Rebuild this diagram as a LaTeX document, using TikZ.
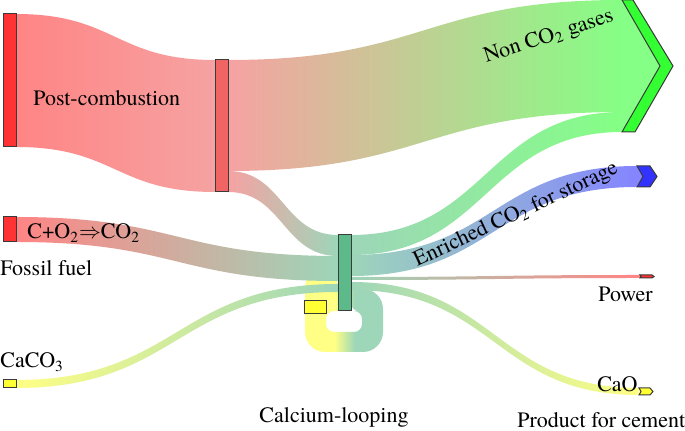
\documentclass[tikz,border=0pt]{standalone}
\usepackage{fontspec}
\setmainfont{texgyretermes-regular.otf}[BoldFont=texgyretermes-bold.otf]
\usetikzlibrary{calc,backgrounds}

\definecolor{redNode}{HTML}{FF3333}
\definecolor{midNode}{HTML}{F06464}
\definecolor{yellowNode}{HTML}{FFFF33}
\definecolor{greenNode}{HTML}{5CBA8A}
\definecolor{gasNode}{HTML}{33FF33}
\definecolor{blueNode}{HTML}{3333FF}
\definecolor{borderGray}{HTML}{3A3A3A}
\colorlet{redLink}{redNode!60!white}
\colorlet{midLink}{midNode!60!white}
\colorlet{yellowLink}{yellowNode!60!white}
\colorlet{greenLink}{greenNode!60!white}
\colorlet{gasLink}{gasNode!60!white}
\colorlet{blueLink}{blueNode!60!white}

\pgfdeclarehorizontalshading{loopShade}{100bp}{color(0bp)=(yellowLink); color(44bp)=(yellowLink); color(57bp)=(greenLink); color(100bp)=(greenLink)}

% ribbon: top/bottom of source side, top/bottom of target side, colours
\newcommand{\flow}[6]{%
  \shade[left color=#5, right color=#6]
    let \p1=#1, \p2=#2, \p3=#3, \p4=#4, \p5=($(\p1)!.5!(\p3)$) in
    (\p1) .. controls (\x5,\y1) and (\x5,\y3) .. (\p3) -- (\p4)
    .. controls (\x5,\y4) and (\x5,\y2) .. (\p2) -- cycle;}

\begin{document}
\begin{tikzpicture}
[x=0.5pt, y=-0.5pt,
  barDecorate/.style={shape=rectangle,draw=borderGray,line width=0.5pt,inner sep=0pt,outer sep=0pt},%
  arrowDecorate/.style={draw=borderGray,line width=0.5pt,line join=miter},%
  labelText/.style={font=\fontsize{11}{13}\selectfont,inner sep=0pt}]
\useasboundingbox (0,0) rectangle (685,431);
%% bars
\foreach \nodename/\x/\y/\w/\h/\col in {
  postsrc/9.5/80.5/6.5pt/66.5pt/redNode, mid/221.5/126/6.5pt/66pt/midNode,
  fossil/9.5/229.5/6.5pt/12.5pt/redNode, caco/9.5/384/6.5pt/4pt/yellowNode,
  calcium/344.5/273/6.5pt/38pt/greenNode}
{
  \node (\nodename) at (\x,\y) [barDecorate,minimum width=\w,minimum height=\h,fill=\col] {};
}
%% arrow ends
\coordinate (gases) at (622,0);
\coordinate (enriched) at (637,166);
\coordinate (power) at (640,275);
\coordinate (cao) at (639,388);
\draw[arrowDecorate,fill=gasNode] (gases) -- ++(11,0) -- ++(40,66) -- ++(-38,66) -- ++(-13,0) -- ++(38,-66) -- cycle;
\draw[arrowDecorate,fill=blueNode] (enriched) -- ++(13,0) -- ++(7,10.5) -- ++(-7,10.5) -- ++(-13,0) -- ++(6,-10.5) -- cycle;
\draw[arrowDecorate,fill=redNode] (power) -- ++(12,0) -- ++(2,1.5) -- ++(-2,1.5) -- ++(-12,0) -- ++(1,-1.5) -- cycle;
\draw[arrowDecorate,fill=yellowNode] (cao) -- ++(11,0) -- ++(3,3.5) -- ++(-3,3.5) -- ++(-11,0) -- ++(2,-3.5) -- cycle;
%% flows
\begin{pgfonlayer}{background}
\shade[shading=loopShade] (351,289) [rounded corners=10pt] -- (383,289) -- (383,352) -- (305,352)
  -- (305,268) -- (338,268) [sharp corners] -- (338,311) [rounded corners=4pt] -- (326,311)
  -- (326,332) -- (362,332) -- (362,311) -- (351,311) [sharp corners] -- cycle;
\flow{(postsrc.north east)}{(postsrc.south east)}{(mid.north west)}{(mid.south west)}{redLink}{midLink}
\flow{(mid.north east)}{($(mid.north east)+(0,111)$)}{(gases)}{($(gases)+(0,112)$)}{midLink}{gasLink}
\flow{($(mid.north east)+(0,111)$)}{(mid.south east)}{(calcium.north west)}{($(calcium.north west)+(0,21)$)}{midLink}{greenLink}
\flow{(fossil.north east)}{(fossil.south east)}{($(calcium.north west)+(0,21)$)}{($(calcium.north west)+(0,46)$)}{redLink}{greenLink}
\flow{(caco.north east)}{(caco.south east)}{($(calcium.north west)+(0,49)$)}{($(calcium.north west)+(0,57)$)}{yellowLink}{greenLink}
\flow{(calcium.north east)}{($(calcium.north east)+(0,20)$)}{($(gases)+(0,112)$)}{($(gases)+(0,132)$)}{greenLink}{gasLink}
\flow{($(calcium.north east)+(0,20)$)}{($(calcium.north east)+(0,41)$)}{(enriched)}{($(enriched)+(0,21)$)}{greenLink}{blueLink}
\flow{($(calcium.north east)+(0,42)$)}{($(calcium.north east)+(0,45)$)}{(power)}{($(power)+(0,3)$)}{greenLink}{redLink}
\flow{($(calcium.north east)+(0,47)$)}{($(calcium.north east)+(0,55)$)}{(cao)}{($(cao)+(0,7)$)}{greenLink}{yellowLink}
\fill[gasLink] (gases) -- ++(38,66) -- ++(-38,66) -- cycle;
\fill[blueLink] (enriched) -- ++(6,10.5) -- ++(-6,10.5) -- cycle;
\end{pgfonlayer}
\node (recycle) at (315,307.5) [barDecorate,minimum width=11pt,minimum height=6.5pt,fill=yellowNode] {};
%% labels
\node[labelText,anchor=base west] (postLabel) at (33,106) {Post-combustion};
\node[labelText,anchor=base west] (reactLabel) at (27,239) {C+O\textsubscript{2}$\Rightarrow$CO\textsubscript{2}};
\node[labelText,anchor=base west] (fossilLabel) at (0,276) {Fossil fuel};
\node[labelText,anchor=base west] (cacoLabel) at (0,368) {CaCO\textsubscript{3}};
\node[labelText,anchor=base] (clLabel) at (334,423) {Calcium-looping};
\node[labelText,anchor=base east] (powerLabel) at (653,302) {Power};
\node[labelText,anchor=base east] (caoLabel) at (638,392) {CaO};
\node[labelText,anchor=base west] (cementLabel) at (517,428) {Product for cement};
\node[labelText,anchor=base west,rotate=18] (gasLabel) at (486,63) {Non CO\textsubscript{2} gases};
\node[labelText,anchor=base west,rotate=25] (enrLabel) at (417,267) {Enriched CO\textsubscript{2} for storage};
\end{tikzpicture}
\end{document}
